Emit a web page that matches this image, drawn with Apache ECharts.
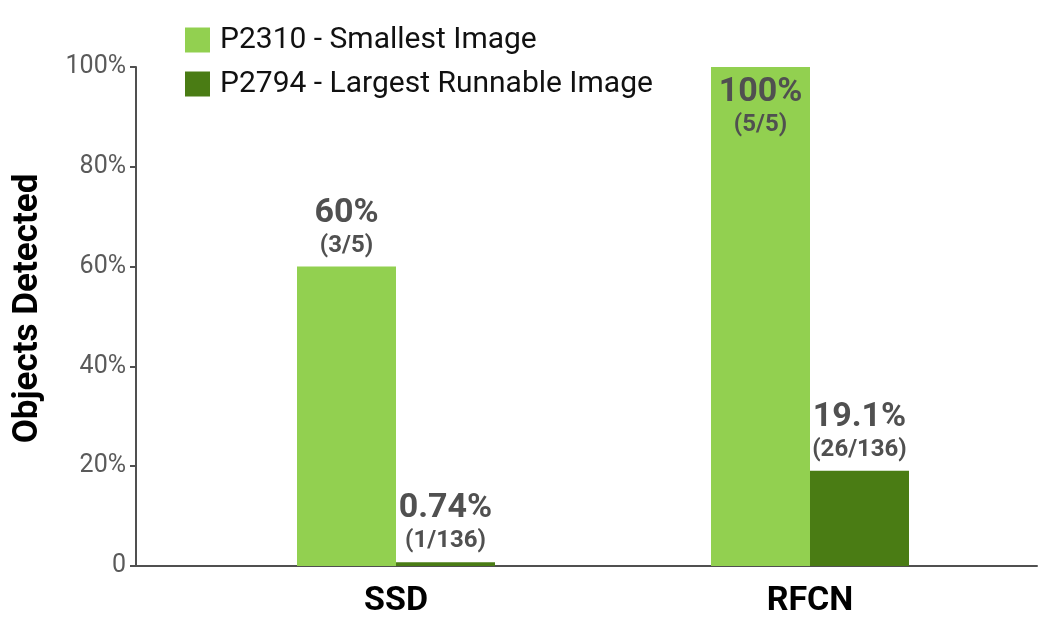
<!DOCTYPE html>
<html>
<head>
<meta charset="utf-8">
<script src="https://cdn.jsdelivr.net/npm/echarts@6/dist/echarts.min.js"></script>
<style>
  html, body { margin: 0; padding: 0; background: #fff; }
  #chart { width: 1050px; height: 625px; }
</style>
</head>
<body>
<div id="chart"></div>
<script>
const categories = ["SSD", "RFCN"];
const seriesNames = ["P2310 - Smallest Image", "P2794 - Largest Runnable Image"];
const smallestValues = [60, 100];
const largestValues = [0.74, 19.1];
const smallestPct = ["60%", "100%"];
const smallestCount = ["(3/5)", "(5/5)"];
const largestPct = ["0.74%", "19.1%"];
const largestCount = ["(1/136)", "(26/136)"];

const lightGreen = "#92d050";
const darkGreen = "#4a7c14";
const labelGray = "#505050";

let myChart = echarts.init(document.getElementById("chart"));

// rich label: big percentage on top, count underneath
function barLabel(pcts, counts, inside) {
  return {
    show: true,
    position: inside ? "insideTop" : "top",
    distance: inside ? 7 : 7,
    formatter: (p) => "{pct|" + pcts[p.dataIndex] + "}\n{cnt|" + counts[p.dataIndex] + "}",
    rich: {
      pct: { fontSize: 34, fontWeight: "bold", color: labelGray, lineHeight: 37, fontFamily: "Roboto" },
      cnt: { fontSize: 24, fontWeight: "bold", color: labelGray, lineHeight: 28, fontFamily: "Roboto" },
    },
  };
}

function makeData(values, pcts, counts) {
  return values.map((v) => ({
    value: v,
    label: barLabel(pcts, counts, v >= 95),
  }));
}

myChart.setOption({
  animation: false,
  textStyle: { fontFamily: "Roboto" },
  legend: {
    orient: "vertical",
    left: 185,
    top: 25,
    padding: 0,
    itemWidth: 25,
    itemHeight: 25,
    itemGap: 14,
    icon: "rect",
    textStyle: { fontSize: 30, color: "#111", padding: [0, 0, 0, 5] },
    data: seriesNames,
  },
  grid: [
    // frame grid: y axis + x axis line
    { left: 136, right: 13, top: 67, bottom: 59 },
    // bar grid
    { left: 189, right: 33, top: 67, bottom: 59 },
  ],
  xAxis: [
    {
      gridIndex: 0,
      type: "category",
      data: [""],
      axisLine: { lineStyle: { color: "#505050", width: 2 } },
      axisTick: { show: false },
      axisLabel: { show: false },
    },
    {
      gridIndex: 1,
      type: "category",
      data: categories,
      axisLine: { show: false },
      axisTick: { show: false },
      axisLabel: { fontSize: 34, fontWeight: "bold", color: "#000", margin: 18 },
    },
  ],
  yAxis: [
    {
      gridIndex: 0,
      type: "value",
      min: 0,
      max: 100,
      interval: 20,
      name: "Objects Detected",
      nameLocation: "middle",
      nameGap: 90,
      nameTextStyle: { fontSize: 35, fontWeight: "bold", color: "#000", padding: [0, 0, 0, 16] },
      axisLine: { show: true, lineStyle: { color: "#505050", width: 2 } },
      axisTick: { show: true, length: 6, lineStyle: { color: "#505050", width: 2 } },
      axisLabel: {
        fontSize: 25,
        color: "#5a5a5a",
        margin: 10,
        formatter: (v) => (v === 0 ? "0" : v + "%"),
      },
      splitLine: { show: false },
    },
    {
      gridIndex: 1,
      type: "value",
      min: 0,
      max: 100,
      show: false,
    },
  ],
  series: [
    {
      name: seriesNames[0],
      type: "bar",
      xAxisIndex: 1,
      yAxisIndex: 1,
      barWidth: 99,
      barGap: "0%",
      itemStyle: { color: lightGreen },
      data: makeData(smallestValues, smallestPct, smallestCount),
    },
    {
      name: seriesNames[1],
      type: "bar",
      xAxisIndex: 1,
      yAxisIndex: 1,
      barWidth: 99,
      barGap: "0%",
      itemStyle: { color: darkGreen },
      data: makeData(largestValues, largestPct, largestCount),
    },
  ],
});
</script>
</body>
</html>
